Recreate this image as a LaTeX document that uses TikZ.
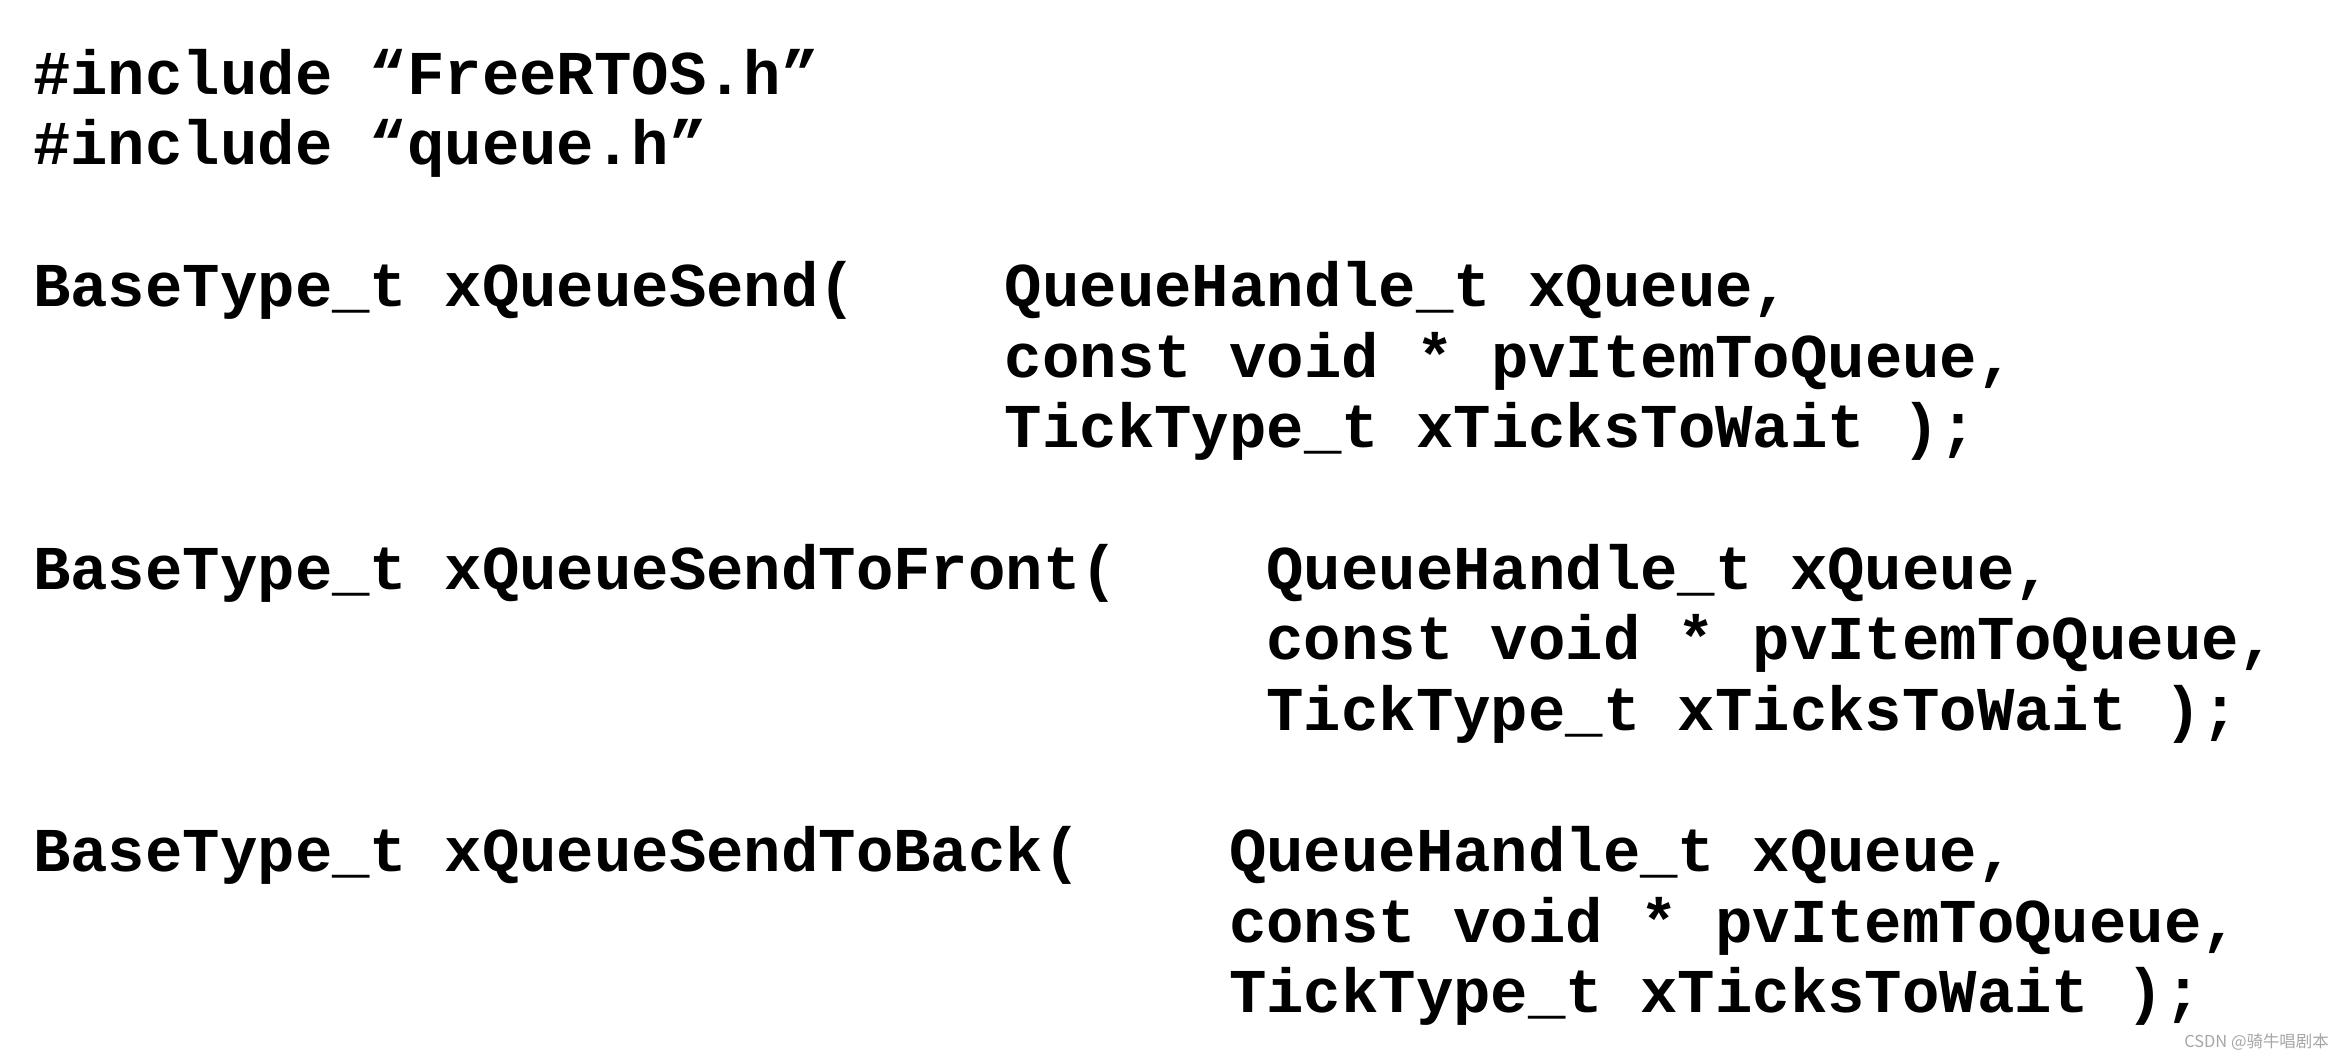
\documentclass[tikz,border=0pt]{standalone}
\usepackage{fontspec}
\setmonofont{Liberation Mono}
\newfontfamily\cjkfont{Noto Sans CJK SC}
\begin{document}
\begin{tikzpicture}[x=1pt,y=-1pt,
  code/.style={anchor=base west,inner sep=0pt,font=\fontsize{41.7}{47}\selectfont\ttfamily\bfseries}]
\useasboundingbox[fill=white] (0,0) rectangle (1568,710);
\def\L#1{(63+47.3*#1)}
\node[code] (a) at (22,63) {\#include “FreeRTOS.h”};
\node[code] (b) at (22,110.3) {\#include “queue.h”};
\node[code] (c1) at (22,205) {BaseType\_t xQueueSend(};
\node[code] (c2) at (672,205) {QueueHandle\_t xQueue,};
\node[code] (c3) at (672,252.2) {const void * pvItemToQueue,};
\node[code] (c4) at (672,299.5) {TickType\_t xTicksToWait );};
\node[code] (d1) at (22,394) {BaseType\_t xQueueSendToFront(};
\node[code] (d2) at (847,394) {QueueHandle\_t xQueue,};
\node[code] (d3) at (847,441.3) {const void * pvItemToQueue,};
\node[code] (d4) at (847,488.6) {TickType\_t xTicksToWait );};
\node[code] (e1) at (22,583) {BaseType\_t xQueueSendToBack(};
\node[code] (e2) at (822,583) {QueueHandle\_t xQueue,};
\node[code] (e3) at (822,630.3) {const void * pvItemToQueue,};
\node[code] (e4) at (822,677.6) {TickType\_t xTicksToWait );};
\node[anchor=base east,inner sep=0pt,text=gray!70,font=\fontsize{11}{13}\selectfont\cjkfont] (w) at (1558,701) {CSDN @骑牛唱剧本};
\end{tikzpicture}
\end{document}
